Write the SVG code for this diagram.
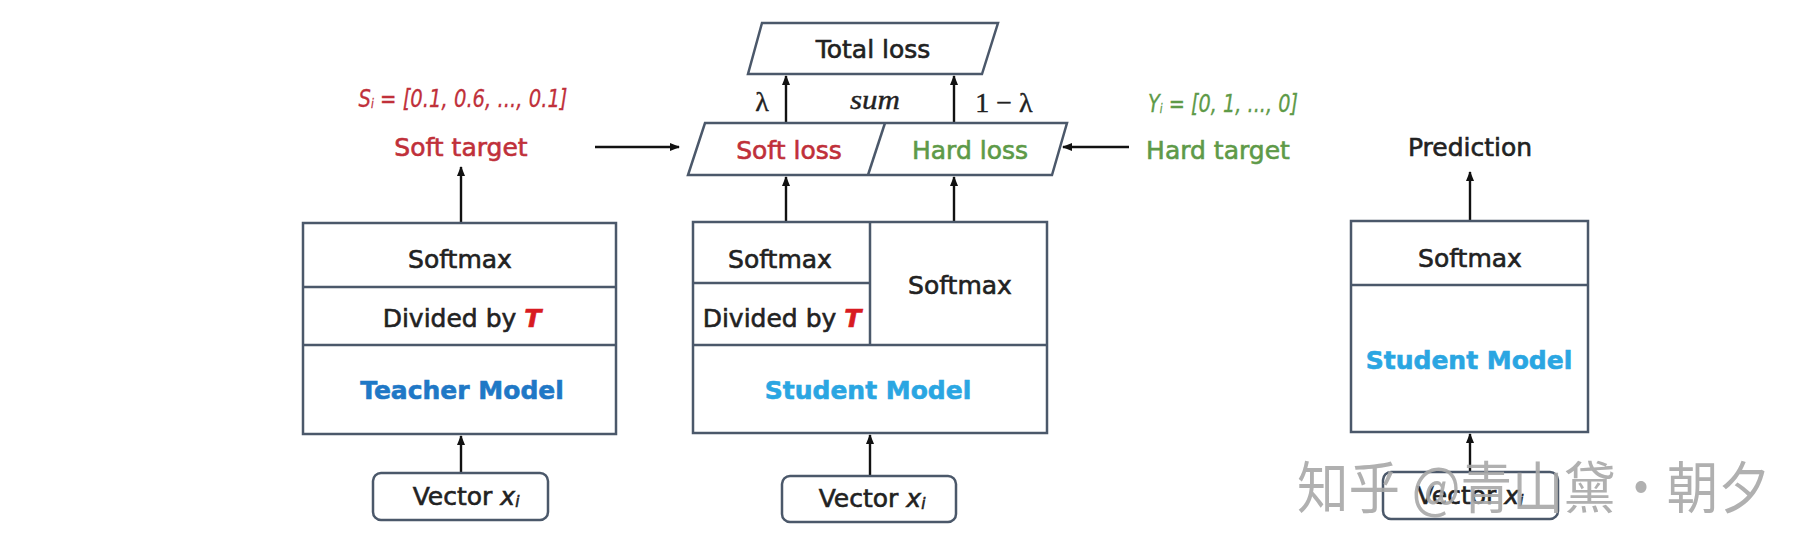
<svg xmlns="http://www.w3.org/2000/svg" width="1820" height="555" viewBox="0 0 1820 555">
<style>
.box{fill:#fff;stroke:#4b586a;stroke-width:2.5}
.div{fill:none;stroke:#4b586a;stroke-width:2.5}
.lbl{font-family:"DejaVu Sans",sans-serif;font-size:25px;fill:#222;stroke:#222;stroke-width:0.6;text-anchor:middle;dominant-baseline:central}
.red{fill:#c0303a;stroke:#c0303a}
.green{fill:#5e9a48;stroke:#5e9a48}
.tblue{fill:#1f78c6;stroke:#1f78c6;font-weight:bold}
.sblue{fill:#2aa6e2;stroke:#2aa6e2;font-weight:bold}
.tT{fill:#d81b22;stroke:#d81b22;font-style:italic;font-weight:bold}
.math{font-family:"Liberation Serif","DejaVu Serif",serif;font-size:28px;fill:#222;stroke:#222;stroke-width:0.4;text-anchor:middle;dominant-baseline:central}
.it{font-style:italic}
.thin{stroke-width:0.3}
.conn line{stroke:#111;stroke-width:2.4;marker-end:url(#ah)}
.wm{font-family:"Noto Sans CJK SC",sans-serif;font-size:56px;fill:#a8a8a8;opacity:0.9;dominant-baseline:central}
</style>
<defs>
<marker id="ah" viewBox="0 0 10 10" refX="9" refY="5" markerWidth="10" markerHeight="10" markerUnits="userSpaceOnUse" orient="auto">
<path d="M0,1 L10,5 L0,9 z" fill="#111"/>
</marker>
</defs>
<rect width="1820" height="555" fill="#fff"/>

<g id="connectors" class="conn">
<line x1="461" y1="473" x2="461" y2="436"/>
<line x1="461" y1="222" x2="461" y2="167"/>
<line x1="595" y1="147" x2="679" y2="147"/>
<line x1="1129" y1="147" x2="1063" y2="147"/>
<line x1="786" y1="222" x2="786" y2="177"/>
<line x1="954" y1="222" x2="954" y2="177"/>
<line x1="786" y1="123" x2="786" y2="76"/>
<line x1="954" y1="123" x2="954" y2="76"/>
<line x1="870" y1="476" x2="870" y2="435"/>
<line x1="1470" y1="472" x2="1470" y2="434"/>
<line x1="1470" y1="220" x2="1470" y2="172"/>
</g>

<g id="total-loss">
<polygon class="box" points="762,23 998,23 982,74 748,74"/>
<text class="lbl" x="873" y="49" font-size="26">Total loss</text>
</g>

<g id="loss-weights">
<text class="math" x="762" y="101">λ</text>
<text class="math it" x="875" y="99" textLength="50" lengthAdjust="spacingAndGlyphs">sum</text>
<text class="math" x="1004" y="102">1 − λ</text>
</g>

<g id="losses">
<polygon class="box" points="705,123 1067,123 1052,175 688,175"/>
<line class="div" x1="885" y1="123" x2="868" y2="175"/>
<text class="lbl red" x="789" y="150" font-size="26">Soft loss</text>
<text class="lbl green" x="970" y="150" font-size="25">Hard loss</text>
</g>

<g id="soft-target">
<text class="lbl red thin" x="463" y="98" font-size="20" font-style="italic" textLength="209" lengthAdjust="spacingAndGlyphs"><tspan>S</tspan><tspan font-size="13" dy="5">i</tspan><tspan dy="-5"> = [0.1, 0.6, ..., 0.1]</tspan></text>
<text class="lbl red" x="461" y="147" font-size="28">Soft target</text>
</g>

<g id="hard-target">
<text class="lbl green thin" x="1223" y="103" font-size="20" font-style="italic" textLength="150" lengthAdjust="spacingAndGlyphs"><tspan>Y</tspan><tspan font-size="13" dy="5">i</tspan><tspan dy="-5"> = [0, 1, ..., 0]</tspan></text>
<text class="lbl green" x="1218" y="150" font-size="27">Hard target</text>
</g>

<g id="teacher">
<rect class="box" x="303" y="223" width="313" height="211"/>
<line class="div" x1="303" y1="287" x2="616" y2="287"/>
<line class="div" x1="303" y1="345" x2="616" y2="345"/>
<text class="lbl" x="460" y="259">Softmax</text>
<text class="lbl" x="462" y="318">Divided by <tspan class="tT">T</tspan></text>
<text class="lbl tblue" x="462" y="390">Teacher Model</text>
</g>

<g id="teacher-input">
<rect class="box" x="373" y="473" width="175" height="47" rx="8"/>
<text class="lbl" x="466" y="496" font-size="27">Vector <tspan font-style="italic">x</tspan><tspan font-style="italic" font-size="15" dy="6">i</tspan></text>
</g>

<g id="student">
<rect class="box" x="693" y="222" width="354" height="211"/>
<line class="div" x1="870" y1="222" x2="870" y2="345"/>
<line class="div" x1="693" y1="283" x2="870" y2="283"/>
<line class="div" x1="693" y1="345" x2="1047" y2="345"/>
<text class="lbl" x="780" y="259">Softmax</text>
<text class="lbl" x="782" y="318">Divided by <tspan class="tT">T</tspan></text>
<text class="lbl" x="960" y="285">Softmax</text>
<text class="lbl sblue" x="868" y="390">Student Model</text>
</g>

<g id="student-input">
<rect class="box" x="782" y="476" width="174" height="46" rx="8"/>
<text class="lbl" x="872" y="498" font-size="27">Vector <tspan font-style="italic">x</tspan><tspan font-style="italic" font-size="15" dy="6">i</tspan></text>
</g>

<g id="prediction">
<text class="lbl" x="1470" y="147">Prediction</text>
</g>

<g id="student-deploy">
<rect class="box" x="1351" y="221" width="237" height="211"/>
<line class="div" x1="1351" y1="285" x2="1588" y2="285"/>
<text class="lbl" x="1470" y="258">Softmax</text>
<text class="lbl sblue" x="1469" y="360">Student Model</text>
</g>

<g id="deploy-input">
<rect class="box" x="1383" y="472" width="175" height="47" rx="8"/>
<text class="lbl" x="1470" y="495" font-size="27">Vector <tspan font-style="italic">x</tspan><tspan font-style="italic" font-size="15" dy="6">i</tspan></text>
</g>

<text class="wm" x="1297" y="483" textLength="473" lengthAdjust="spacingAndGlyphs">知乎 @青山黛·朝夕</text>
</svg>
